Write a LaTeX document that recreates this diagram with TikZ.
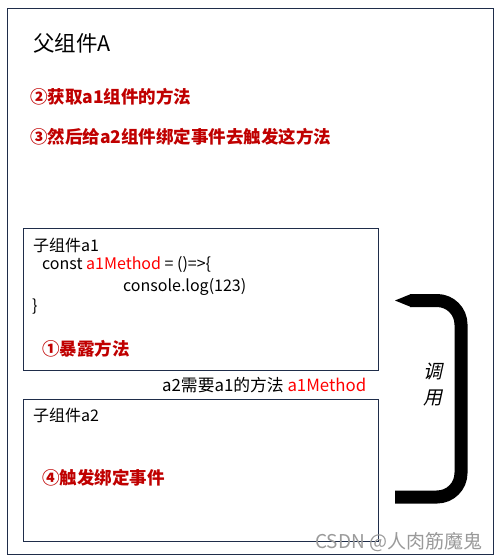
\documentclass[tikz,border=0pt]{standalone}
\usepackage{fontspec}
\setmainfont{Noto Sans CJK SC}
\newfontfamily\slantcjk{Noto Sans CJK SC}[FakeSlant=0.22]
\definecolor{frameblue}{HTML}{1F2D4A}
\definecolor{darkred}{HTML}{C00000}
\definecolor{brightred}{HTML}{FF0000}
\definecolor{wmgray}{HTML}{9A9A9A}
\tikzset{
  frame/.style={draw=frameblue, line width=1.3pt, fill=none, inner sep=0pt, anchor=north west},
  txt/.style={anchor=west, inner sep=0pt, font=\fontsize{16}{19}\selectfont, text=black},
  needtxt/.style={anchor=west, inner sep=0pt, font=\fontsize{16.8}{19}\selectfont, text=black},
  title/.style={anchor=west, inner sep=0pt, font=\fontsize{21.5}{25}\selectfont, text=black},
  redtxt/.style={anchor=west, inner sep=0pt, font=\fontsize{17.5}{21}\bfseries\selectfont, text=darkred},
  calltxt/.style={anchor=center, inner sep=0pt, font=\fontsize{19}{22}\slantcjk, text=black},
  wm/.style={anchor=west, inner sep=0pt, font=\fontsize{19}{22}\selectfont, text=wmgray},
  bigarrow/.style={line width=13pt, draw=black, rounded corners=24pt}
}
\begin{document}
\begin{tikzpicture}[x=1pt,y=-1pt]
\useasboundingbox (0,0) rectangle (501,560);
\fill[white] (0,0) rectangle (501,560);
% frames
\node[frame, minimum width=486pt, minimum height=546pt] (A) at (7,8) {};
\node[frame, minimum width=355pt, minimum height=142pt] (a1) at (23,228) {};
\node[frame, minimum width=355pt, minimum height=142pt] (a2) at (23,399) {};
% parent texts
\node[title] (tA) at (33,43) {父组件A};
\node[redtxt] (s2) at (30,97) {②获取a1组件的方法};
\node[redtxt] (s3) at (30,137) {③然后给a2组件绑定事件去触发这方法};
% a1 texts
\node[txt] (t1) at (33,245) {子组件a1};
\node[txt] (c1) at (42,265) {const \textcolor{brightred}{a1Method} = ()=>\{};
\node[txt] (c2) at (123,287) {console.log(123)};
\node[txt] (c3) at (32,307) {\}};
\node[redtxt] (s1) at (42,349) {①暴露方法};
\node[needtxt] (need) at (162,385) {a2需要a1的方法 \textcolor{brightred}{a1Method}};
% a2 texts
\node[txt] (t2) at (33,415) {子组件a2};
\node[redtxt] (s4) at (42,478) {④触发绑定事件};
% call arrow
\coordinate (arrS) at (395,497);
\coordinate (arrE) at (410,300.5);
\draw[bigarrow] (arrS) -- (461,497) -- (461,300.5) -- (arrE);
\fill[black] (411,294) -- (395,300.5) -- (411,307) -- cycle;
\node[calltxt] (call1) at (433,371) {调};
\node[calltxt] (call2) at (433,398) {用};
% watermark
\node[wm] (wmk) at (315,542) {CSDN @人肉筋魔鬼};
\end{tikzpicture}
\end{document}
